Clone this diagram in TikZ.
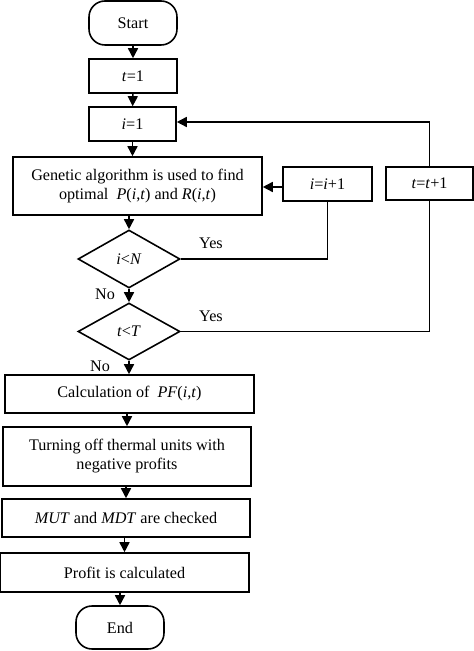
\documentclass[tikz,border=0pt]{standalone}
\usepackage{fontspec}
\setmainfont{Liberation Serif}
\usetikzlibrary{shapes.geometric, arrows.meta, calc}
\tikzstyle{box} = [rectangle, draw=black, line width=0.9pt, fill=white, minimum width=1.76cm, minimum height=0.68cm, align=center, inner sep=1pt]
\tikzstyle{term} = [rectangle, rounded corners=0.32cm, draw=black, line width=0.9pt, minimum width=1.76cm, minimum height=0.88cm, inner sep=1pt]
\tikzstyle{decision} = [diamond, draw=black, line width=0.9pt, minimum width=2.04cm, minimum height=1.16cm, inner sep=0pt]
\tikzstyle{arrow} = [line width=0.9pt, -{Triangle[length=0.2cm, width=0.2cm]}]
\tikzstyle{line} = [line width=0.9pt]
\tikzstyle{lbl} = [font=\fontsize{9.2pt}{11pt}\selectfont, inner sep=0pt]

\begin{document}
\begin{tikzpicture}[every node/.style={font=\fontsize{9.2pt}{10.8pt}\selectfont}]
\useasboundingbox (0,0) rectangle (9.48,13.02);

% Main column
\node[term] (start) at (2.66,12.56) {Start};
\node[box] (t_one) at (2.66,11.50) {\textit{t}=1};
\node[box, minimum width=1.74cm] (i_one) at (2.65,10.54) {\textit{i}=1};
\node[box, minimum width=4.98cm, minimum height=1.16cm] (ga) at (2.75,9.30) {Genetic algorithm is used to find\\optimal~ \textit{P}(\textit{i},\textit{t}\/) and \textit{R}(\textit{i},\textit{t}\/)};

% Counters
\node[box, minimum width=1.78cm] (i_inc) at (6.55,9.34) {\textit{i}=\textit{i}+1};
\node[box, minimum width=1.74cm, minimum height=0.66cm] (t_inc) at (8.59,9.35) {\textit{t}=\textit{t}+1};

% Decisions
\node[decision] (i_test) at (2.58,7.84) {\textit{i}<\textit{N}};
\node[decision, minimum height=1.14cm] (t_test) at (2.58,6.39) {\textit{t}<\textit{T}};

% Final steps
\node[box, minimum width=4.98cm, minimum height=0.76cm] (pf) at (2.59,5.14) {Calculation of~ \textit{PF}(\textit{i},\textit{t}\/)};
\node[box, minimum width=4.96cm, minimum height=1.18cm] (turn_off) at (2.54,3.89) {Turning off thermal units with\\negative profits};
\node[box, minimum width=4.96cm, minimum height=0.76cm] (mut_mdt) at (2.52,2.66) {\textit{MUT} and \textit{MDT} are checked};
\node[box, minimum width=4.98cm, minimum height=0.78cm] (profit) at (2.49,1.57) {Profit is calculated};
\node[term, minimum height=0.86cm] (end) at (2.40,0.47) {End};

% Labels
\node[lbl] (yes_i) at (4.22,8.16) {Yes};
\node[lbl] (yes_t) at (4.22,6.70) {Yes};
\node[lbl] (no_i) at (2.10,7.14) {No};
\node[lbl] (no_t) at (2.00,5.70) {No};

% Connections
\draw[arrow] (start) -- (t_one);
\draw[arrow] (t_one) -- (i_one);
\draw[arrow] (i_one) -- (i_one |- ga.north);
\draw[arrow] (i_test |- ga.south) -- (i_test);
\draw[arrow] (i_test) -- (t_test);
\draw[arrow] (t_test) -- (t_test |- pf.north);
\draw[arrow] (turn_off |- pf.south) -- (turn_off);
\draw[arrow] (mut_mdt |- turn_off.south) -- (mut_mdt);
\draw[arrow] (profit |- mut_mdt.south) -- (profit);
\draw[arrow] (end |- profit.south) -- (end);

% Loops
\coordinate (ga_in) at ($(i_inc.west)+(0,-0.06)$);
\coordinate (i_in) at ($(i_one.east)+(0,0.04)$);
\draw[line] (i_test.east) -| (i_inc.south);
\draw[arrow] (ga_in) -- (ga_in -| ga.east);
\draw[line] (t_test.east) -| (t_inc.south);
\draw[arrow] (t_inc.north) |- (i_in);

\end{tikzpicture}
\end{document}
